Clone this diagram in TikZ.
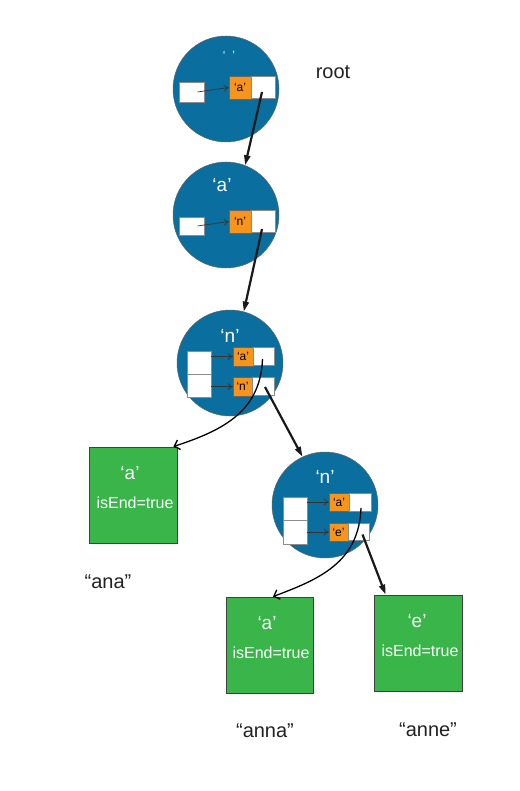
\documentclass[tikz,border=0pt]{standalone}
\usepackage{fontspec}
\setmainfont{Liberation Sans}
\usetikzlibrary{arrows.meta,calc}
\definecolor{trieblue}{HTML}{0A6E9E}
\definecolor{trieorange}{HTML}{F7941D}
\definecolor{triegreen}{HTML}{3AB54A}
\definecolor{darktext}{HTML}{222222}
\tikzset{
  trienode/.style={circle, fill=trieblue, draw=black!60, line width=0.5pt, minimum size=106pt, inner sep=0pt},
  wbox/.style={rectangle, fill=white, draw=black!45, line width=0.4pt, inner sep=0pt},
  obox/.style={rectangle, fill=trieorange, draw=black!60, line width=0.4pt, inner sep=0pt, font=\fontsize{12}{12}\selectfont},
  leaf/.style={rectangle, fill=triegreen, draw=black!75, line width=0.8pt, inner sep=0pt},
  wlabel/.style={text=white, font=\fontsize{19}{19}\selectfont, inner sep=0pt},
  endlabel/.style={text=white, font=\fontsize{16}{16}\selectfont, inner sep=0pt},
  caption/.style={text=darktext, font=\fontsize{20}{20}\selectfont, inner sep=0pt, anchor=base},
  thinarrow/.style={draw=black!80, line width=0.7pt, -{To[length=5pt,width=7pt]}},
  thickarrow/.style={draw=black!90, line width=2.2pt, -{Triangle[length=10pt,width=6pt]}},
  curvearrow/.style={draw=black, line width=1.3pt, -{Straight Barb[length=5pt,width=10pt]}}
}
\begin{document}
\begin{tikzpicture}[x=1pt,y=-1pt]
\useasboundingbox (0,0) rectangle (519,791);
% root
\node[trienode] (root) at (226,89) {};
\node[text=white, font=\fontsize{12}{12}\selectfont, inner sep=0pt] (rootlab) at (229,55) {‘\hspace{7pt}’};
\node[wbox, minimum width=25pt, minimum height=20pt] (rootL) at (191.5,92) {};
\node[obox, minimum width=22pt, minimum height=23pt] (rootA) at (240,87.5) {‘a’};
\node[wbox, minimum width=24pt, minimum height=22pt] (rootP) at (263,87) {};
\node[caption] (rootcap) at (333,79) {root};
% node 'a'
\node[trienode] (na) at (226,215) {};
\node[wlabel] (nalab) at (222,185) {‘a’};
\node[wbox, minimum width=25pt, minimum height=18pt] (naL) at (191.5,226) {};
\node[obox, minimum width=22pt, minimum height=23pt] (naN) at (240,221.5) {‘n’};
\node[wbox, minimum width=24pt, minimum height=22pt] (naP) at (263,221) {};
% node 'n'
\node[trienode] (nn) at (230,363) {};
\node[wlabel] (nnlab) at (230,336) {‘n’};
\node[wbox, minimum width=24pt, minimum height=23pt] (nnL1) at (199,362.5) {};
\node[wbox, minimum width=24pt, minimum height=23pt] (nnL2) at (199,385.5) {};
\node[obox, minimum width=20pt, minimum height=19pt] (nnA) at (243,356.5) {‘a’};
\node[wbox, minimum width=21pt, minimum height=18pt] (nnAP) at (263.5,356) {};
\node[obox, minimum width=19pt, minimum height=19pt] (nnN) at (242.5,386.5) {‘n’};
\node[wbox, minimum width=22pt, minimum height=18pt] (nnNP) at (263,386) {};
% node 'nn'
\node[trienode] (nnn) at (325,505) {};
\node[wlabel] (nnnlab) at (325,477) {‘n’};
\node[wbox, minimum width=24pt, minimum height=23pt] (nnnL1) at (295,508.5) {};
\node[wbox, minimum width=24pt, minimum height=24pt] (nnnL2) at (295,532) {};
\node[obox, minimum width=20pt, minimum height=18pt] (nnnA) at (339,502) {‘a’};
\node[wbox, minimum width=22pt, minimum height=18pt] (nnnAP) at (360,502) {};
\node[obox, minimum width=19pt, minimum height=18pt] (nnnE) at (338.5,532) {‘e’};
\node[wbox, minimum width=21pt, minimum height=17pt] (nnnEP) at (358.5,531.5) {};
% leaves
\node[leaf, minimum width=88pt, minimum height=96pt] (ana) at (133,495) {};
\node[wlabel] (analab) at (130,473) {‘a’};
\node[endlabel] (anaend) at (135,503) {isEnd=true};
\node[caption] (anacap) at (108,588) {“ana”};
\node[leaf, minimum width=87pt, minimum height=96pt] (anna) at (269.5,645) {};
\node[wlabel] (annalab) at (267,623) {‘a’};
\node[endlabel] (annaend) at (271,653) {isEnd=true};
\node[caption] (annacap) at (265,737) {“anna”};
\node[leaf, minimum width=88pt, minimum height=96pt] (anne) at (418,643) {};
\node[wlabel] (annelab) at (417,621) {‘e’};
\node[endlabel] (anneend) at (420,651) {isEnd=true};
\node[caption] (annecap) at (428,736) {“anne”};
% thin internal arrows
\draw[thinarrow] ([xshift=6pt]rootL.center) -- (rootA.west);
\draw[thinarrow] ([xshift=6pt]naL.center) -- (naN.west);
\draw[thinarrow] (nnA.west -| nnL1.east) -- (nnA.west);
\draw[thinarrow] (nnN.west -| nnL2.east) -- (nnN.west);
\draw[thinarrow] (nnnA.west -| nnnL1.east) -- (nnnA.west);
\draw[thinarrow] (nnnE.west -| nnnL2.east) -- (nnnE.west);
% thick arrows
\draw[thickarrow] ([xshift=-1pt,yshift=-5pt]rootP.center) -- (na.69);
\draw[thickarrow] ([xshift=-1pt,yshift=-8pt]naP.center) -- (nn.75);
\draw[thickarrow] ([xshift=2pt,yshift=-1pt]nnNP.center) -- (nnn.115);
\draw[thickarrow] ([xshift=4pt,yshift=-3pt]nnnEP.center) -- ([xshift=12pt]anne.north west);
% curved arrows
\draw[curvearrow] ([xshift=-1pt,yshift=-3pt]nnAP.center) .. controls +(-2,55) and +(45,-15) .. ([xshift=-4pt]ana.north east);
\draw[curvearrow] ([xshift=1pt,yshift=-6pt]nnnAP.center) .. controls +(-2,55) and +(45,-17) .. ([xshift=3.5pt]anna.north);
\end{tikzpicture}
\end{document}
